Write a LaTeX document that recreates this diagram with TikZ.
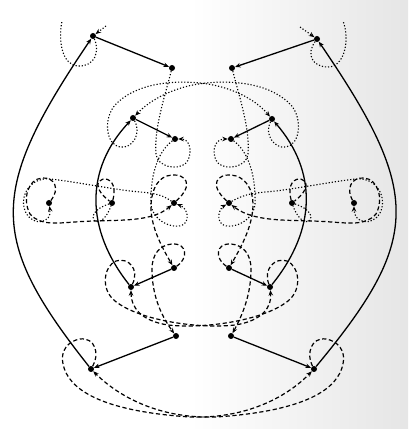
\documentclass[tikz,border=0pt]{standalone}
\usepackage{tikz}
\usetikzlibrary{arrows.meta}
\tikzset{
vertex/.style = { circle, fill = black, draw = none, inner sep = 0pt, minimum size = 6pt },
a edge/.style = { draw = black, line width = 1.3pt },
b edge/.style = { draw = black, line width = 1.1pt, dash pattern = on 1.2pt off 1.9pt },
c edge/.style = { draw = black, line width = 1.2pt, dash pattern = on 4.2pt off 2.6pt },
arrowed/.style = { -{Stealth[length = 5.5pt, width = 4.5pt]} },
}

\begin{document}
\begin{tikzpicture}[x = 1pt, y = 1pt]
    % background
    \fill[white] (0, 0) rectangle (408, 429);
    \shade[left color = white, right color = black!10] (190, 0) rectangle (408, 429);
    \useasboundingbox (0, 0) rectangle (408, 429);
    % vertices
    \node[vertex] (A1) at (93, 393) {};
    \node[vertex] (A2) at (172, 361) {};
    \node[vertex] (B1) at (317, 390) {};
    \node[vertex] (B2) at (232, 361) {};
    \node[vertex] (C1) at (133, 311) {};
    \node[vertex] (C2) at (175, 290) {};
    \node[vertex] (D1) at (272, 310) {};
    \node[vertex] (D2) at (231, 290) {};
    \node[vertex] (E1) at (49, 226) {};
    \node[vertex] (E2) at (112, 226) {};
    \node[vertex] (E3) at (174, 226) {};
    \node[vertex] (F1) at (229, 226) {};
    \node[vertex] (F2) at (292, 226) {};
    \node[vertex] (F3) at (354, 226) {};
    \node[vertex] (G1) at (174, 161) {};
    \node[vertex] (G2) at (131, 142) {};
    \node[vertex] (H1) at (229, 161) {};
    \node[vertex] (H2) at (270, 142) {};
    \node[vertex] (I1) at (176, 93) {};
    \node[vertex] (I2) at (91, 60) {};
    \node[vertex] (J1) at (231, 93) {};
    \node[vertex] (J2) at (314, 60) {};
    \coordinate (A1out) at (62, 408);
    \coordinate (A1in) at (106, 403);
    \coordinate (B1out) at (343, 408);
    \coordinate (B1in) at (300, 402);
    % solid edges
    \draw[a edge, arrowed] (A1) -- (A2);
    \draw[a edge, arrowed] (B1) -- (B2);
    \draw[a edge, arrowed] (C1) -- (C2);
    \draw[a edge, arrowed] (D1) -- (D2);
    \draw[a edge, arrowed] (G1) -- (G2);
    \draw[a edge, arrowed] (H1) -- (H2);
    \draw[a edge, arrowed] (I1) -- (I2);
    \draw[a edge, arrowed] (J1) -- (J2);
    \draw[a edge, arrowed] (I2) .. controls (-12, 190) and (-12, 238) .. (A1);
    \draw[a edge, arrowed] (J2) .. controls (422, 190) and (422, 236) .. (B1);
    \draw[a edge, arrowed] (G2) .. controls (85, 200) and (85, 260) .. (C1);
    \draw[a edge, arrowed] (H2) .. controls (317, 200) and (317, 258) .. (D1);
    % dotted edges
    \draw[b edge] (A1) .. controls (100, 378) and (95, 362) .. (78, 363) .. controls (62, 364) and (58, 388) .. (A1out);
    \draw[b edge, arrowed] (A1in) -- (A1);
    \draw[b edge] (B1) .. controls (306, 375) and (312, 362) .. (328, 362) .. controls (345, 362) and (350, 390) .. (B1out);
    \draw[b edge, arrowed] (B1in) -- (B1);
    \draw[b edge, arrowed] (A2) .. controls (164, 330) and (154, 300) .. (156, 275) .. controls (157, 262) and (178, 258) .. (186, 266) .. controls (192, 272) and (192, 290) .. (C2);
    \draw[b edge, arrowed] (B2) .. controls (240, 330) and (250, 300) .. (248, 275) .. controls (247, 262) and (226, 258) .. (218, 266) .. controls (212, 272) and (212, 290) .. (D2);
    \draw[b edge, arrowed] (C2) .. controls (161, 280) and (150, 260) .. (151, 225) .. controls (152, 205) and (184, 195) .. (187, 210) .. controls (188, 218) and (184, 222) .. (E3);
    \draw[b edge, arrowed] (D2) .. controls (245, 280) and (256, 260) .. (255, 225) .. controls (254, 205) and (222, 195) .. (219, 210) .. controls (218, 218) and (222, 222) .. (F1);
    \draw[b edge, arrowed] (C1) .. controls (142, 295) and (132, 280) .. (120, 282) .. controls (106, 284) and (103, 310) .. (115, 324) .. controls (135, 345) and (170, 349) .. (200, 346) .. controls (230, 343) and (255, 330) .. (D1);
    \draw[b edge, arrowed] (D1) .. controls (264, 295) and (274, 280) .. (286, 282) .. controls (300, 284) and (303, 310) .. (291, 324) .. controls (271, 345) and (236, 349) .. (206, 346) .. controls (176, 343) and (151, 330) .. (C1);
    \draw[b edge, arrowed] (E3) .. controls (160, 236) and (150, 236) .. (130, 238) .. controls (100, 242) and (70, 248) .. (50, 250) .. controls (30, 252) and (18, 232) .. (26, 216) .. controls (34, 202) and (52, 206) .. (E1);
    \draw[b edge, arrowed] (F1) .. controls (246, 236) and (256, 236) .. (276, 238) .. controls (306, 242) and (336, 248) .. (356, 250) .. controls (376, 252) and (388, 232) .. (380, 216) .. controls (372, 202) and (354, 206) .. (F3);
    \draw[b edge] (E2) .. controls (78, 215) and (100, 192) .. (E2);
    \draw[b edge] (F2) .. controls (326, 215) and (304, 192) .. (F2);
    % dashed edges
    \draw[c edge, arrowed] (E1) .. controls (60, 240) and (55, 252) .. (42, 251) .. controls (28, 250) and (22, 230) .. (30, 215) .. controls (40, 203) and (58, 206) .. (75, 207) .. controls (110, 210) and (150, 205) .. (E3);
    \draw[c edge, arrowed] (F3) .. controls (346, 240) and (351, 252) .. (364, 251) .. controls (378, 250) and (384, 230) .. (376, 215) .. controls (366, 203) and (348, 206) .. (331, 207) .. controls (296, 210) and (256, 205) .. (F1);
    \draw[c edge] (E2) .. controls (122, 262) and (78, 252) .. (E2);
    \draw[c edge] (F2) .. controls (282, 262) and (326, 252) .. (F2);
    \draw[c edge, arrowed] (E3) .. controls (195, 245) and (185, 255) .. (172, 254) .. controls (158, 253) and (152, 240) .. (151, 225) .. controls (150, 205) and (160, 185) .. (G1);
    \draw[c edge, arrowed] (F1) .. controls (208, 245) and (218, 255) .. (231, 254) .. controls (245, 253) and (253, 240) .. (253, 225) .. controls (253, 205) and (243, 185) .. (H1);
    \draw[c edge, arrowed] (G1) .. controls (188, 170) and (188, 186) .. (172, 185) .. controls (160, 184) and (152, 175) .. (152, 160) .. controls (152, 135) and (160, 115) .. (I1);
    \draw[c edge, arrowed] (H1) .. controls (215, 170) and (215, 186) .. (231, 185) .. controls (243, 184) and (251, 175) .. (251, 160) .. controls (251, 135) and (243, 115) .. (J1);
    \draw[c edge, arrowed] (G2) .. controls (140, 160) and (128, 172) .. (116, 168) .. controls (104, 163) and (100, 140) .. (115, 128) .. controls (140, 108) and (200, 100) .. (235, 104) .. controls (262, 108) and (272, 122) .. (H2);
    \draw[c edge, arrowed] (H2) .. controls (263, 160) and (275, 172) .. (287, 168) .. controls (299, 163) and (303, 140) .. (288, 128) .. controls (263, 108) and (203, 100) .. (168, 104) .. controls (141, 108) and (131, 122) .. (G2);
    \draw[c edge, arrowed] (I2) .. controls (100, 75) and (95, 92) .. (80, 90) .. controls (68, 88) and (60, 78) .. (63, 65) .. controls (68, 40) and (100, 18) .. (190, 12) .. controls (250, 10) and (290, 35) .. (J2);
    \draw[c edge, arrowed] (J2) .. controls (306, 75) and (311, 92) .. (326, 90) .. controls (338, 88) and (346, 78) .. (343, 65) .. controls (338, 40) and (306, 18) .. (216, 12) .. controls (156, 10) and (116, 35) .. (I2);
\end{tikzpicture}
\end{document}
